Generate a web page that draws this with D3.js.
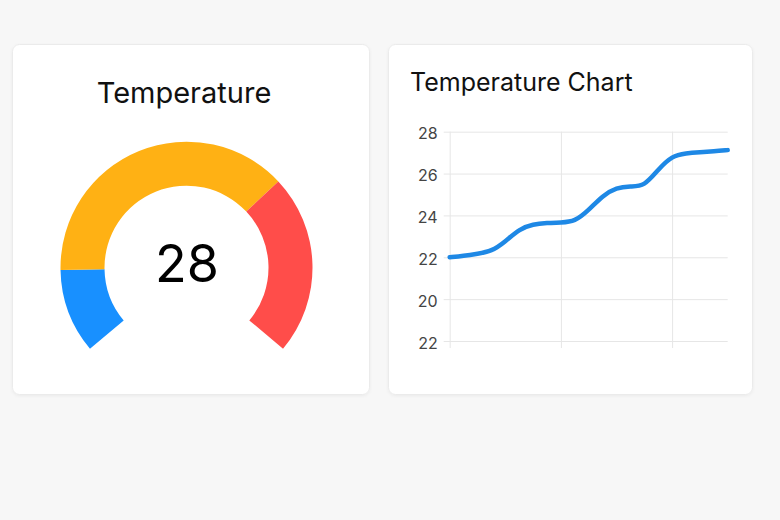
<!DOCTYPE html>
<html>
<head>
<meta charset="utf-8">
<script src="https://cdn.jsdelivr.net/npm/d3@7"></script>
<style>
  html, body { margin: 0; padding: 0; background: #f7f7f7; }
  svg { display: block; font-family: Inter, "Noto Sans", sans-serif; }
</style>
</head>
<body>
<div id="dash"></div>
<script>
// gauge data
var gaugeValue = 28;
var gaugeStops = [0, 15, 68, 100];
var gaugeColors = ["#1890ff", "#ffb114", "#ff4d4a"];

// line chart data (index along hidden x axis, temperature)
var tempIndex = [0,1,2,3,4,5,6,7,8,9,10,11,12,13,14,15,16,17,18,19,20];
var tempValues = [22.0,22.07,22.17,22.28,22.75,23.35,23.58,23.64,23.66,23.7,24.25,
                  24.95,25.33,25.4,25.38,26.2,26.85,26.97,27.02,27.06,27.12];
var yTicks = [18,20,22,24,26,28];
var yTickLabels = ["22","20","22","24","26","28"];
var xGridTicks = [0,8,16];

var W = 780, H = 520;

var svg = d3.select("#dash")
  .append("svg")
  .attr("width", W)
  .attr("height", H);

// drop shadow for cards
var defs = svg.append("defs");
var f = defs.append("filter").attr("id", "shadow")
  .attr("x", "-5%").attr("y", "-5%").attr("width", "110%").attr("height", "110%");
f.append("feDropShadow").attr("dx", 0).attr("dy", 1).attr("stdDeviation", 1.5)
  .attr("flood-color", "#000").attr("flood-opacity", 0.05);

//cards
var cards = [{x: 12, y: 44, w: 357, h: 350}, {x: 388, y: 44, w: 364, h: 350}];
svg.selectAll(".card")
  .data(cards)
  .enter().append("rect")
  .attr("class", "card")
  .attr("x", function(d) { return d.x + 0.5; })
  .attr("y", function(d) { return d.y + 0.5; })
  .attr("width", function(d) { return d.w; })
  .attr("height", function(d) { return d.h; })
  .attr("rx", 7)
  .style("fill", "#fff")
  .style("stroke", "#ebebeb")
  .attr("filter", "url(#shadow)");

//gauge card
svg.append("text")
  .attr("x", 184)
  .attr("y", 103)
  .attr("text-anchor", "middle")
  .style("font-size", "29px")
  .style("fill", "#111")
  .text("Temperature");

var deg = Math.PI / 180;
var angle = d3.scaleLinear().domain([0, 100]).range([-130 * deg, 130 * deg]);
var arc = d3.arc().innerRadius(82).outerRadius(126);

var gauge = svg.append("g")
  .attr("transform", "translate(186.5,267.7)");

var bands = d3.range(gaugeColors.length).map(function(i) {
  return {start: gaugeStops[i], end: gaugeStops[i + 1], color: gaugeColors[i]};
});

gauge.selectAll("path")
  .data(bands)
  .enter().append("path")
  .attr("d", function(d) { return arc({startAngle: angle(d.start), endAngle: angle(d.end)}); })
  .style("fill", function(d) { return d.color; });

gauge.append("text")
  .attr("x", 0.5)
  .attr("y", 14)
  .attr("text-anchor", "middle")
  .style("font-size", "52px")
  .style("fill", "#000")
  .text(gaugeValue);

//line chart card
svg.append("text")
  .attr("x", 410)
  .attr("y", 91)
  .style("font-size", "25px")
  .style("fill", "#111")
  .text("Temperature Chart");

var plot = {left: 449.7, right: 727.7, top: 131.7, bottom: 341};
var pw = plot.right - plot.left, ph = plot.bottom - plot.top;

var xScale = d3.scaleLinear().domain([0, 20]).range([0, pw]);
var yScale = d3.scaleLinear().domain([18, 28]).range([ph, 0]);

var chart = svg.append("g")
  .attr("transform", "translate(" + plot.left + "," + plot.top + ")");

//vertical grid
var xg = chart.append("g")
  .attr("transform", "translate(0," + ph + ")")
  .call(d3.axisBottom(xScale).tickValues(xGridTicks).tickSize(-ph).tickFormat(""));
xg.select(".domain").remove();
xg.selectAll(".tick line").attr("y1", 7).attr("stroke", "#e6e6e6");

//y axis with horizontal grid
var yg = chart.append("g")
  .call(d3.axisLeft(yScale).tickValues(yTicks).tickSize(-pw).tickPadding(12)
    .tickFormat(function(d, i) { return yTickLabels[i]; }));
yg.select(".domain").remove();
yg.selectAll(".tick line").attr("x1", -6).attr("stroke", "#e6e6e6");
yg.selectAll(".tick text")
  .attr("dy", "0.45em")
  .style("font-size", "16px")
  .style("font-family", "Inter, 'Noto Sans', sans-serif")
  .style("fill", "#444");

//temperature line
var line = d3.line()
  .x(function(d, i) { return xScale(tempIndex[i]); })
  .y(function(d) { return yScale(d); })
  .curve(d3.curveBasis);

chart.append("path")
  .datum(tempValues)
  .attr("d", line)
  .style("fill", "none")
  .style("stroke", "#1e88e5")
  .style("stroke-width", 4.5)
  .style("stroke-linecap", "round");
</script>
</body>
</html>
